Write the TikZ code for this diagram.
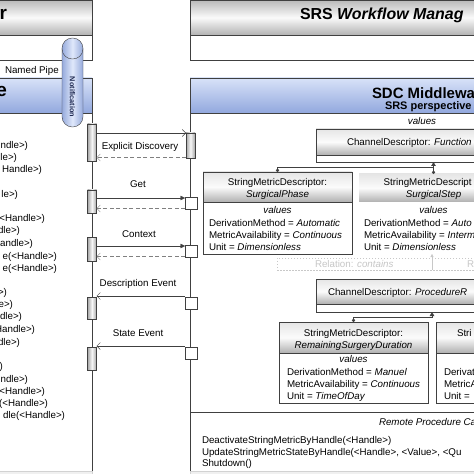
\documentclass[tikz,border=0pt]{standalone}
\usepackage{fontspec}
\setmainfont{Liberation Sans}
\usepackage{tikz}
\usetikzlibrary{arrows.meta}
\usetikzlibrary{positioning}

\definecolor{edgegray}{RGB}{64,64,64}
\definecolor{barblue}{RGB}{146,168,222}
\definecolor{barbluelight}{RGB}{216,226,248}
\definecolor{pipeblue}{RGB}{150,170,220}
\definecolor{pipelight}{RGB}{224,232,250}
\definecolor{pipetext}{RGB}{30,40,80}
\definecolor{relgray}{RGB}{200,200,200}

\newcommand{\fsize}[1]{\fontsize{#1}{12}\selectfont}

\begin{document}
\begin{tikzpicture}
    [x=1bp, y=-1bp,
    every node/.style={font=\fsize{9.8}, inner sep=0pt, outer sep=0pt},
    panelhead/.style={draw=edgegray, top color=gray!55, bottom color=gray!60, middle color=gray!4, anchor=north west},
    panelbar/.style={draw=edgegray, top color=barbluelight, bottom color=barblue, anchor=north west},
    plainbox/.style={draw=edgegray, fill=white, anchor=north west},
    footbar/.style={draw=gray!35, fill=gray!12, anchor=north west},
    umlhead/.style={draw=edgegray, top color=gray!20, bottom color=gray!62, middle color=gray!3, anchor=north west},
    umlbody/.style={draw=edgegray, fill=white, anchor=north west},
    actbar/.style={draw=edgegray, left color=gray!70, right color=gray!70, middle color=gray!6, minimum width=9bp, anchor=north},
    callbox/.style={draw=edgegray, fill=white, minimum width=12bp, minimum height=12bp, anchor=north},
    call/.style={edgegray, -{Straight Barb[length=3.5bp, width=7bp]}},
    synccall/.style={edgegray, -{Triangle[length=4.5bp, width=4.5bp]}},
    reply/.style={gray, dash pattern=on 4bp off 2.5bp, -{Straight Barb[length=3.5bp, width=7bp]}},
    gen/.style={edgegray, {Circle[length=3.2bp]}-{Triangle[length=4bp, width=4.5bp]}},
    member/.style={edgegray, {Circle[length=3.2bp]}-},
    relline/.style={relgray, -{Triangle[length=3bp, width=3bp]}},
    textline/.style={anchor=base west},
    ctextline/.style={anchor=base},
    nextline/.style={below=12bp of #1, anchor=base west},
    fragment/.style={anchor=base east}]

  \useasboundingbox (0,0) rectangle (474,474);
  \clip (0,0) rectangle (474,474);

  % client panel, cut at the left edge
  \node[panelhead, minimum width=200bp, minimum height=35bp] (cliHead) at (-108,0) {};
  \node[plainbox, minimum width=200bp, minimum height=25bp] (cliSub) at (-108,35) {};
  \node[panelbar, minimum width=200bp, minimum height=35bp] (cliBar) at (-108,78) {};
  \node[plainbox, minimum width=200bp, minimum height=380bp] (cliBody) at (-108,113) {};
  \node[footbar, minimum width=200bp, minimum height=12bp] (cliFoot) at (-108,471) {};
  \node[fragment, font=\bfseries\fsize{19}] (cliTitle) at (7,19.5) {r};
  \node[fragment, font=\bfseries\fsize{19}] (cliBarTitle) at (7,97) {e};
  \node[textline] (pipeLabel) at (5,73.5) {Named Pipe};

  \foreach \fragx/\fragy/\fragtext [count=\fragno] in
    {28/148.5/ndle>), 17/160.5/le>), 42/172.5/Handle>), 18/197.5/le>),
     45/221.5/<Handle>), 20/233.5/dle>), 33/246.5/andle>), 57/259.5/e(<Handle>),
     57/271.5/e(<Handle>), 7/295.5/>), 13/307.5/e>), 22/319.5/dle>),
     35/332.5/Handle>), 20/345.5/dle>), 3/369.5/), 28/382.5/ndle>),
     45/394.5/<Handle>), 48/406.5/(<Handle>), 65/418.5/dle(<Handle>)}
    \node[fragment] (frag\fragno) at (\fragx,\fragy) {\fragtext};

  % SRS panel, cut at the right edge
  \node[panelhead, minimum width=320bp, minimum height=35bp] (srsHead) at (190,0) {};
  \node[plainbox, minimum width=320bp, minimum height=25bp] (srsSub) at (190,35) {};
  \node[panelbar, minimum width=320bp, minimum height=35bp] (srsBar) at (190,78) {};
  \node[plainbox, minimum width=320bp, minimum height=380bp] (srsBody) at (190,113) {};
  \node[plainbox, minimum width=320bp, minimum height=59bp] (rpcBox) at (190,412) {};
  \node[footbar, minimum width=320bp, minimum height=12bp] (srsFoot) at (190,471) {};
  \node[textline, font=\bfseries\fsize{16}] (srsTitle) at (300,19.5) {SRS \textit{Workflow Manag}};
  \node[textline, font=\bfseries\fsize{15}] (sdcTitle) at (372,99) {SDC Middlewa};
  \node[textline, font=\bfseries\fsize{11}] (sdcSub) at (385,110) {SRS perspective};

  % named pipe
  \node[draw=edgegray, rounded corners=10.4bp, left color=pipeblue, right color=pipeblue,
    middle color=pipelight, minimum width=21bp, minimum height=89bp, anchor=north] (notif) at (72.5,38) {};
  \draw[edgegray] ([yshift=-10.5bp]notif.north west)
    .. controls ([yshift=-24.5bp]notif.north west) and ([yshift=-24.5bp]notif.north east)
    .. ([yshift=-10.5bp]notif.north east);
  \node[rotate=-90, font=\bfseries\fsize{7.3}, text=pipetext] (notifText) at (72.5,97) {Notification};

  % activations
  \node[actbar, minimum height=37bp] (discL) at (92,124) {};
  \node[actbar, minimum height=25bp] (discR) at (190.5,133) {};
  \node[actbar, minimum height=23bp] (getL) at (92,190) {};
  \node[callbox] (getR) at (191,197) {};
  \node[actbar, minimum height=24bp] (ctxL) at (92,237) {};
  \node[callbox] (ctxR) at (191,245) {};
  \node[actbar, minimum height=22bp] (descL) at (92,297) {};
  \node[callbox] (descR) at (191,297) {};
  \node[actbar, minimum height=23bp] (stateL) at (92,347) {};
  \node[callbox] (stateR) at (191,347) {};

  % messages
  \coordinate (discCall) at (0,133);
  \coordinate (discReply) at (0,157.5);
  \coordinate (getCall) at (0,198);
  \coordinate (getReply) at (0,208.5);
  \coordinate (ctxCall) at (0,246);
  \coordinate (ctxReply) at (0,256.5);
  \coordinate (descCall) at (0,296);
  \coordinate (stateCall) at (0,346);
  \draw[call] (discL.east |- discCall) -- (discR.west |- discCall);
  \draw[reply] (discR.west |- discReply) -- (discL.east |- discReply);
  \draw[synccall] (getL.east |- getCall) -- (getR.west |- getCall);
  \draw[reply] (getR.west |- getReply) -- (getL.east |- getReply);
  \draw[synccall] (ctxL.east |- ctxCall) -- (ctxR.west |- ctxCall);
  \draw[reply] (ctxR.west |- ctxReply) -- (ctxL.east |- ctxReply);
  \draw[call] (descR.west |- descCall) -- (descL.east |- descCall);
  \draw[call] (stateR.west |- stateCall) -- (stateL.east |- stateCall);
  \node[ctextline] (discLabel) at (140,149.5) {Explicit Discovery};
  \node[ctextline] (getLabel) at (138,187.5) {Get};
  \node[ctextline] (ctxLabel) at (139,237.5) {Context};
  \node[ctextline] (descLabel) at (138,286.5) {Description Event};
  \node[ctextline] (stateLabel) at (138,336.5) {State Event};

  % descriptor tree
  \node[ctextline, font=\itshape\fsize{9.8}] (valuesTop) at (422,124.5) {values};
  \node[draw=relgray, dash pattern=on 1.5bp off 1.5bp, minimum width=240bp, minimum height=12bp,
    anchor=north west] (relFrame) at (277,258) {};
  \node[textline, text=gray!45] (relLabel) at (315,267) {Relation: \textit{contains}};
  \node[textline, text=gray!45] (relLabelB) at (467,267) {R};

  \node[umlhead, minimum width=204bp, minimum height=26bp] (chanA) at (316,129) {};
  \node[umlbody, minimum width=204bp, minimum height=7bp] (chanAbody) at (316,155) {};
  \node[textline] (chanAtitle) at (347,145.5) {ChannelDescriptor: \textit{Function}};

  \node[umlhead, minimum width=149bp, minimum height=30bp] (phaseHead) at (203,172) {};
  \node[umlbody, minimum width=149bp, minimum height=52bp] (phaseBody) at (203,202) {};
  \node[ctextline] (phaseType) at (277.5,185.5) {StringMetricDescriptor:};
  \node[ctextline, font=\itshape\fsize{9.8}] (phaseName) at (277.5,197.5) {SurgicalPhase};
  \node[ctextline, font=\itshape\fsize{9.8}] (phaseValues) at (277.5,213.5) {values};
  \node[textline] (phaseDeriv) at (209,226.5) {DerivationMethod = \textit{Automatic}};
  \node[nextline=phaseDeriv.base west] (phaseAvail) {MetricAvailability = \textit{Continuous}};
  \node[nextline=phaseAvail.base west] (phaseUnit) {Unit = \textit{Dimensionless}};

  \node[umlhead, draw=none, minimum width=149bp, minimum height=28bp] (stepHead) at (359,174) {};
  \node[umlbody, draw=none, minimum width=149bp, minimum height=52bp] (stepBody) at (359,202) {};
  \node[textline] (stepType) at (383.7,185.5) {StringMetricDescript};
  \node[ctextline, font=\itshape\fsize{9.8}] (stepName) at (433.5,197.5) {SurgicalStep};
  \node[ctextline, font=\itshape\fsize{9.8}] (stepValues) at (433.5,213.5) {values};
  \node[textline] (stepDeriv) at (364,226.5) {DerivationMethod = \textit{Auto}};
  \node[nextline=stepDeriv.base west] (stepAvail) {MetricAvailability = \textit{Interm}};
  \node[nextline=stepAvail.base west] (stepUnit) {Unit = \textit{Dimensionless}};

  \node[umlhead, minimum width=204bp, minimum height=25bp] (chanB) at (316,279) {};
  \node[umlbody, minimum width=204bp, minimum height=8bp] (chanBbody) at (316,304) {};
  \node[textline] (chanBtitle) at (328,295.5) {ChannelDescriptor: \textit{ProcedureR}};

  \node[umlhead, minimum width=149bp, minimum height=31bp] (remHead) at (279,322) {};
  \node[umlbody, minimum width=149bp, minimum height=50bp] (remBody) at (279,353) {};
  \node[ctextline] (remType) at (353.5,336.5) {StringMetricDescriptor:};
  \node[ctextline, font=\itshape\fsize{9.8}] (remName) at (353.5,348.5) {RemainingSurgeryDuration};
  \node[ctextline, font=\itshape\fsize{9.8}] (remValues) at (353.5,362.5) {values};
  \node[textline] (remDeriv) at (287,375.5) {DerivationMethod = \textit{Manuel}};
  \node[nextline=remDeriv.base west] (remAvail) {MetricAvailability = \textit{Continuous}};
  \node[nextline=remAvail.base west] (remUnit) {Unit = \textit{TimeOfDay}};

  \node[umlhead, minimum width=149bp, minimum height=31bp] (durHead) at (436,322) {};
  \node[umlbody, minimum width=149bp, minimum height=50bp] (durBody) at (436,353) {};
  \node[textline] (durType) at (457,336.5) {Stri};
  \node[textline] (durDeriv) at (444,375.5) {Derivat};
  \node[nextline=durDeriv.base west] (durAvail) {MetricA};
  \node[nextline=durAvail.base west] (durUnit) {Unit =};

  \coordinate (phaseJoin) at (433.5,167);
  \draw[gen] (stepHead.north) -- (stepHead.north |- chanAbody.south);
  \draw[member] (phaseHead.north) |- (phaseJoin);
  \coordinate (remJoin) at (432,317);
  \draw[gen] (remHead.north) |- (remJoin) -- (remJoin |- chanBbody.south);
  \coordinate (relFoot) at (432,270);
  \draw[relline] (relFoot) -- (relFoot |- stepBody.south);

  % remote procedure calls
  \node[textline, font=\itshape\fsize{9.8}] (rpcTitle) at (379,425.5) {Remote Procedure Ca};
  \node[textline] (rpcDeactivate) at (202,443.5) {DeactivateStringMetricByHandle(<Handle>)};
  \node[nextline=rpcDeactivate.base west] (rpcUpdate) {UpdateStringMetricStateByHandle(<Handle>, <Value>, <Qu};
  \node[below=11bp of rpcUpdate.base west, anchor=base west] (rpcShutdown) {Shutdown()};
\end{tikzpicture}
\end{document}
